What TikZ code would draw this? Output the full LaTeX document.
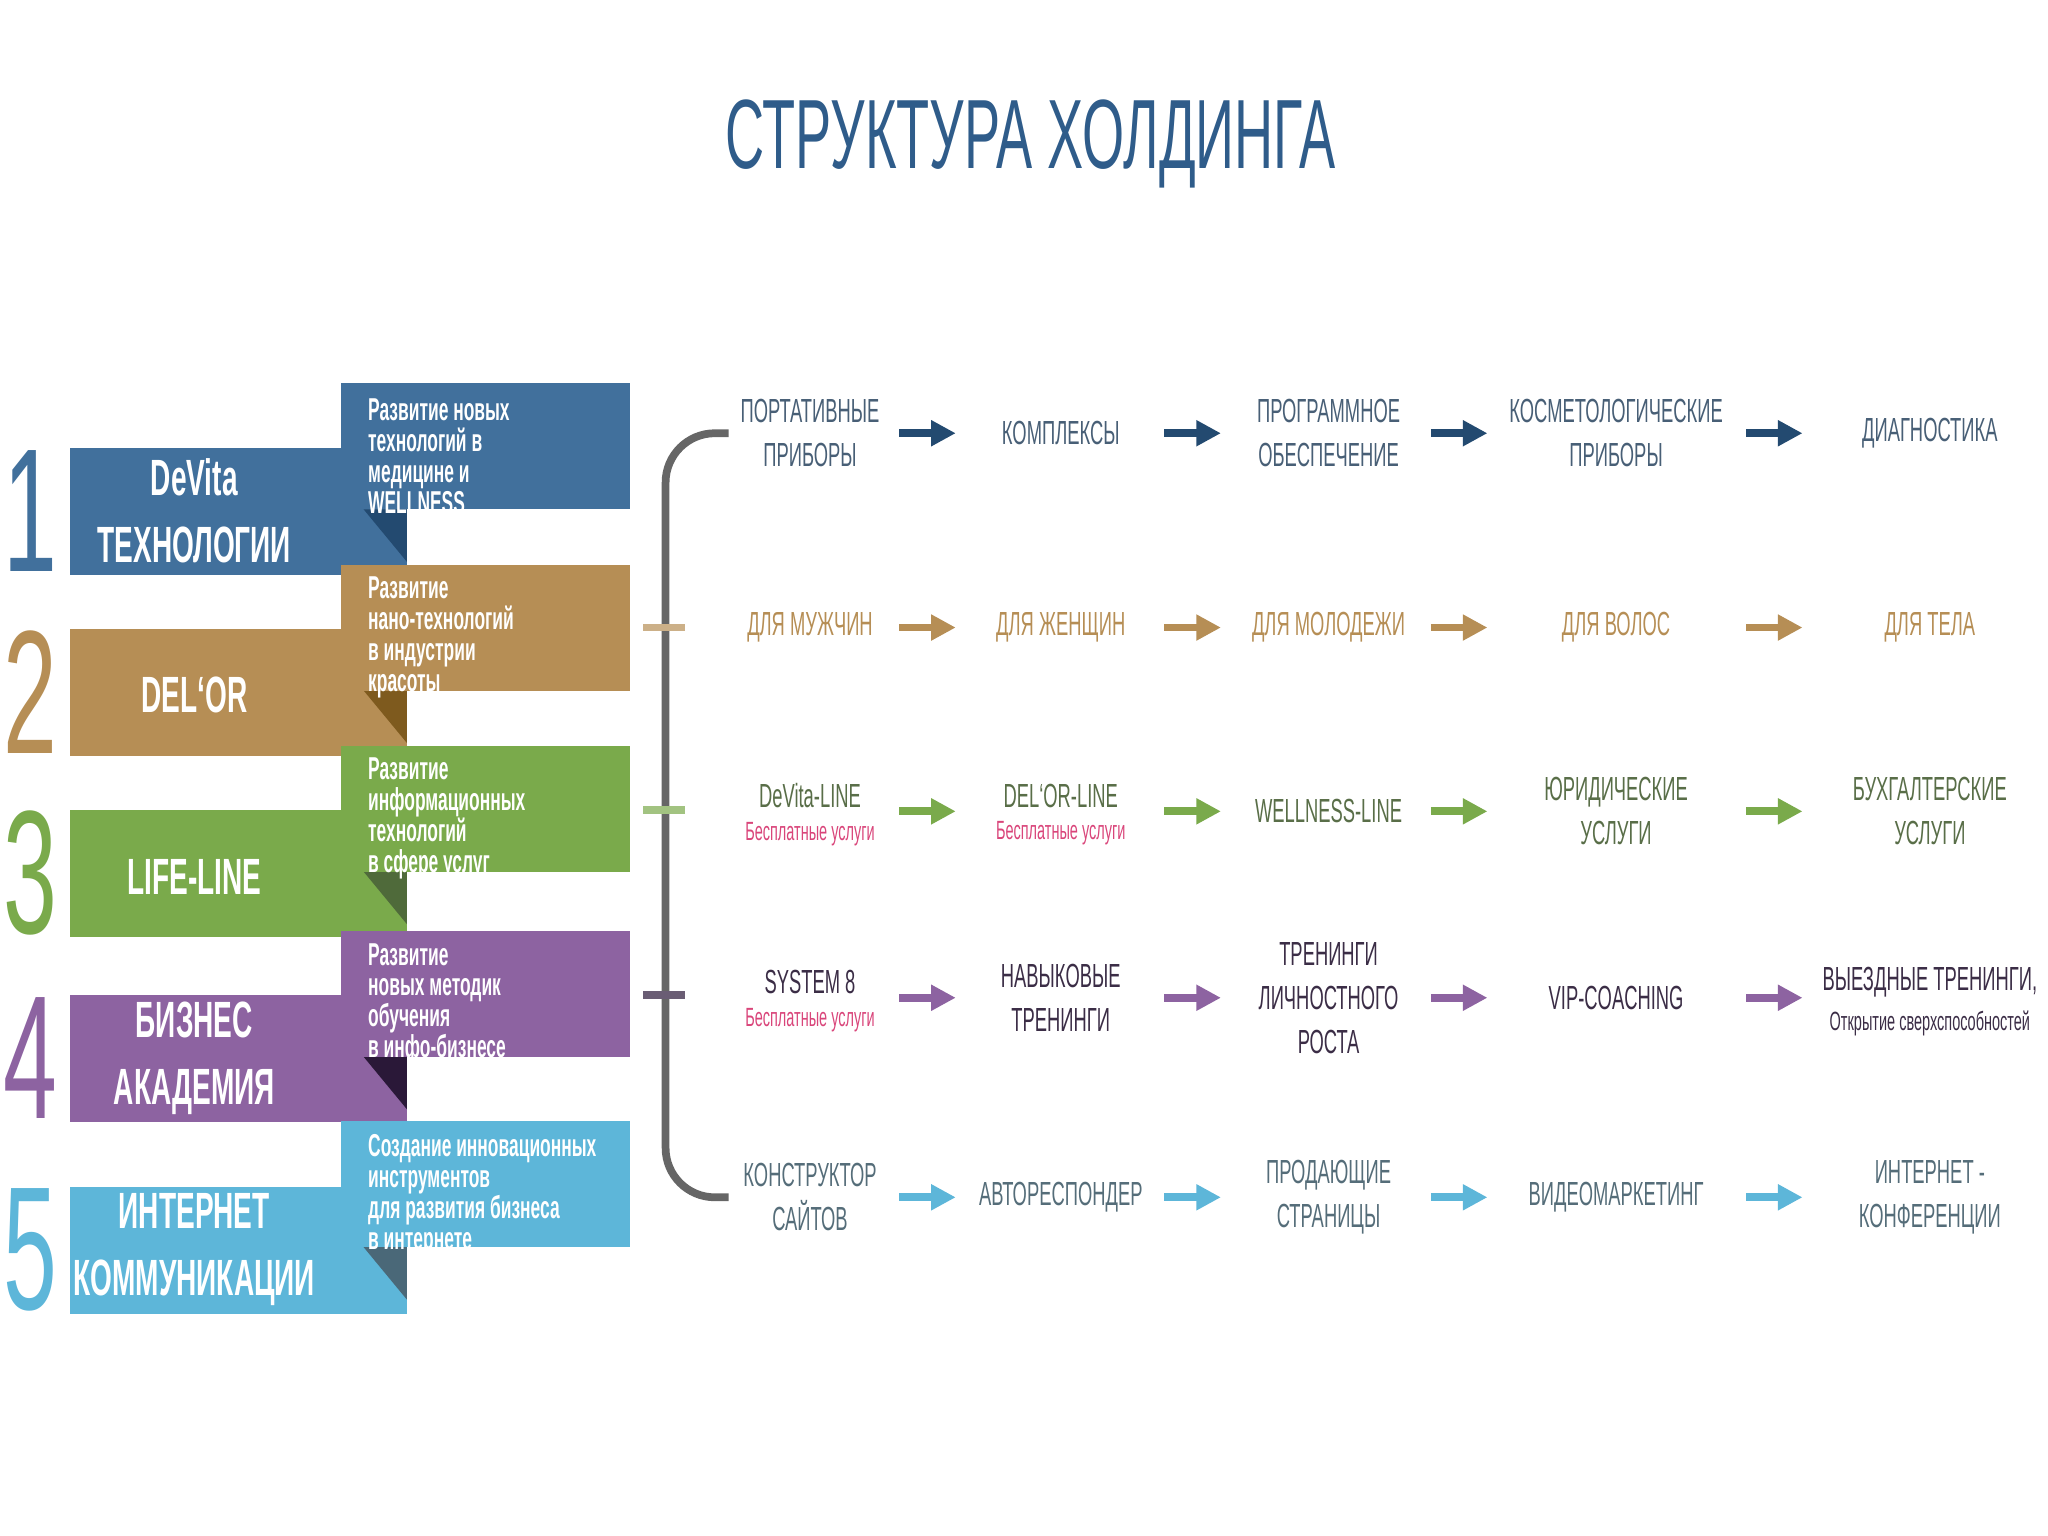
\documentclass[tikz,border=0pt]{standalone}
\usepackage{fontspec}
\setmainfont{Liberation Sans}[FakeStretch=0.55]
\usetikzlibrary{positioning,arrows.meta}
\definecolor{cblue}{HTML}{41709C}
\definecolor{cbluedk}{HTML}{234A70}
\definecolor{cgold}{HTML}{B68E55}
\definecolor{cgolddk}{HTML}{7E5A1E}
\definecolor{cgreen}{HTML}{7AAA4B}
\definecolor{cgreendk}{HTML}{4F6A3A}
\definecolor{cviol}{HTML}{8D63A1}
\definecolor{cvioldk}{HTML}{2A1838}
\definecolor{ccyan}{HTML}{5DB6D9}
\definecolor{ccyandk}{HTML}{4A6878}
\definecolor{ctitle}{HTML}{2F5C8A}
\definecolor{cfree}{HTML}{D9457A}
\tikzset{
  maintxt/.style={text=white,font=\bfseries\fontsize{14.5}{19}\selectfont,align=center},
  desctxt/.style={text=white,font=\bfseries\fontsize{9}{8.8}\selectfont,align=left,anchor=north west},
  num/.style={text=#1,font=\fontsize{50}{50}\selectfont},
  item/.style={text=#1,font=\fontsize{9.5}{12.5}\selectfont,align=center},
  free/.style={text=cfree,font=\fontsize{7.5}{8}\selectfont},
  arr/.style={-{Triangle[length=7pt,width=7pt]},line width=2.2pt,draw=#1},
}
\begin{document}
\begin{tikzpicture}[x=0.013128cm,y=-0.013128cm]
\useasboundingbox (0,0) rectangle (1560,1170);

\node (title) at (785,110) [text=ctitle,font=\fontsize{28}{30}\selectfont] {СТРУКТУРА ХОЛДИНГА};

% left blocks
\foreach \i/\ym/\yd/\c/\cd in {1/389/340/cblue/cbluedk,2/527/478/cgold/cgolddk,3/665/616/cgreen/cgreendk,4/806/757/cviol/cvioldk,5/952/902/ccyan/ccyandk}{
  \fill[\c] (53,\ym-48) rectangle (310,\ym+49);
  \fill[\cd] (277,\yd+48) -- (310,\yd+48) -- (310,\yd+88) -- cycle;
  \fill[\c] (260,\yd-48) rectangle (480,\yd+48);
  \node (n\i) [num=\c] at (23,\ym) {\i};
}
\node (m1) [maintxt] at (148,389) {DeVita\\ТЕХНОЛОГИИ};
\node (m2) [maintxt] at (148,529) {DEL`OR};
\node (m3) [maintxt] at (148,668) {LIFE-LINE};
\node (m4) [maintxt] at (148,806) {БИЗНЕС\\АКАДЕМИЯ};
\node (m5) [maintxt] at (148,952) {ИНТЕРНЕТ\\КОММУНИКАЦИИ};

\node (d1) [desctxt] at (271,294) {Развитие новых\\технологий в\\медицине и\\WELLNESS};
\node (d2) [desctxt] at (271,430) {Развитие\\нано-технологий\\в индустрии\\красоты};
\node (d3) [desctxt] at (271,568) {Развитие\\информационных\\технологий\\в сфере услуг};
\node (d4) [desctxt] at (271,709) {Развитие\\новых методик\\обучения\\в инфо-бизнесе};
\node (d5) [desctxt] at (271,855) {Создание инновационных\\инструментов\\для развития бизнеса\\в интернете};

% bracket
\coordinate (bt) at (555,330);
\coordinate (bb) at (555,912);
\draw[line width=2.2pt,draw=gray!80!black,rounded corners=14] (bt) -- (507,330) -- (507,912) -- (bb);
\draw[line width=2.2pt,draw=cgold!70] (490,478) -- (522,478);
\draw[line width=2.2pt,draw=cgreen!70] (490,617) -- (522,617);
\draw[line width=2.2pt,draw=cvioldk!70] (490,758) -- (522,758);

% row 1
\node (r1c1) [item=cbluedk!60!gray] at (617,330) {ПОРТАТИВНЫЕ\\ПРИБОРЫ};
\node (r1c2) [item=cbluedk!60!gray] at (808,330) {КОМПЛЕКСЫ};
\node (r1c3) [item=cbluedk!60!gray] at (1012,330) {ПРОГРАММНОЕ\\ОБЕСПЕЧЕНИЕ};
\node (r1c4) [item=cbluedk!60!gray] at (1231,330) {КОСМЕТОЛОГИЧЕСКИЕ\\ПРИБОРЫ};
\node (r1c5) [item=cbluedk!60!gray] at (1470,330) {ДИАГНОСТИКА};
% row 2
\node (r2c1) [item=cgold] at (617,478) {ДЛЯ МУЖЧИН};
\node (r2c2) [item=cgold] at (808,478) {ДЛЯ ЖЕНЩИН};
\node (r2c3) [item=cgold] at (1012,478) {ДЛЯ МОЛОДЕЖИ};
\node (r2c4) [item=cgold] at (1231,478) {ДЛЯ ВОЛОС};
\node (r2c5) [item=cgold] at (1470,478) {ДЛЯ ТЕЛА};
% row 3
\node (r3c1) [item=cgreendk!80!gray] at (617,606) {DeVita-LINE};
\node (r3f1) [free,below=-3pt of r3c1] {Бесплатные услуги};
\node (r3c2) [item=cgreendk!80!gray] at (808,606) {DEL`OR-LINE};
\node (r3f2) [free,below=-3pt of r3c2] {Бесплатные услуги};
\node (r3c3) [item=cgreendk!80!gray] at (1012,618) {WELLNESS-LINE};
\node (r3c4) [item=cgreendk!80!gray] at (1231,618) {ЮРИДИЧЕСКИЕ\\УСЛУГИ};
\node (r3c5) [item=cgreendk!80!gray] at (1470,618) {БУХГАЛТЕРСКИЕ\\УСЛУГИ};
% row 4
\node (r4c1) [item=cvioldk!80!gray] at (617,748) {SYSTEM 8};
\node (r4f1) [free,below=-3pt of r4c1] {Бесплатные услуги};
\node (r4c2) [item=cvioldk!80!gray] at (808,760) {НАВЫКОВЫЕ\\ТРЕНИНГИ};
\node (r4c3) [item=cvioldk!80!gray] at (1012,760) {ТРЕНИНГИ\\ЛИЧНОСТНОГО\\РОСТА};
\node (r4c4) [item=cvioldk!80!gray] at (1231,760) {VIP-COACHING};
\node (r4c5) [item=cvioldk!80!gray] at (1470,748) {ВЫЕЗДНЫЕ ТРЕНИНГИ,};
\node (r4f5) [text=cvioldk!80!gray,font=\fontsize{7.5}{8}\selectfont,below=-3pt of r4c5] {Открытие сверхспособностей};
% row 5
\node (r5c1) [item=ccyandk!80!gray] at (617,912) {КОНСТРУКТОР\\САЙТОВ};
\node (r5c2) [item=ccyandk!80!gray] at (808,912) {АВТОРЕСПОНДЕР};
\node (r5c3) [item=ccyandk!80!gray] at (1012,912) {ПРОДАЮЩИЕ\\СТРАНИЦЫ};
\node (r5c4) [item=ccyandk!80!gray] at (1231,912) {ВИДЕОМАРКЕТИНГ};
\node (r5c5) [item=ccyandk!80!gray] at (1470,912) {ИНТЕРНЕТ -\\КОНФЕРЕНЦИИ};

% arrows
\foreach \r/\y/\c in {1/330/cbluedk,2/478/cgold,3/618/cgreen,4/760/cviol,5/912/ccyan}{
  \foreach \k/\xa/\xb in {1/685/728,2/887/930,3/1090/1133,4/1330/1373}{
    \coordinate (a\r s\k) at (\xa,\y);
    \coordinate (a\r e\k) at (\xb,\y);
    \draw[arr=\c] (a\r s\k) -- (a\r e\k);
  }
}
\end{tikzpicture}
\end{document}
